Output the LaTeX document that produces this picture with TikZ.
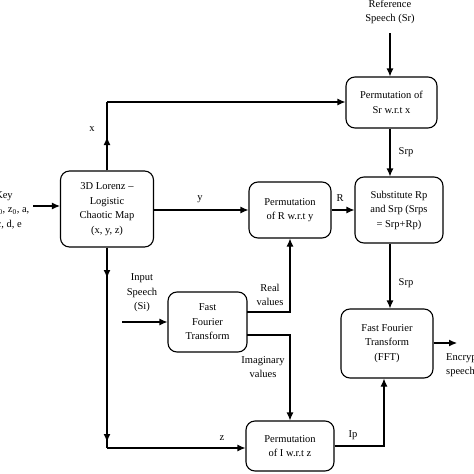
\documentclass[tikz,border=0pt]{standalone}
\usepackage{fontspec}
\setmainfont{Liberation Serif}
\usetikzlibrary{arrows.meta}
\begin{document}
\begin{tikzpicture}[x=1pt,y=-1pt,
  every node/.style={font=\fontsize{10.5}{14.5}\selectfont, align=center, inner sep=0pt},
  blk/.style={draw, line width=1.1pt, rounded corners=9pt},
  wire/.style={line width=1.1pt},
  arr/.style={line width=1.1pt, -{Latex[length=8pt,width=7pt]}},
  lbl/.style={}]
\useasboundingbox (0,0) rectangle (474,474);
% boxes
\node[blk, minimum width=93pt, minimum height=76pt] (lorenz) at (107,209) {3D Lorenz --\\Logistic\\Chaotic Map\\(x, y, z)};
\node[blk, minimum width=82pt, minimum height=56pt] (permR) at (290,210) {Permutation\\of R w.r.t y};
\node[blk, minimum width=88pt, minimum height=66pt] (subst) at (399,210) {Substitute Rp\\and Srp (Srps\\= Srp+Rp)};
\node[blk, minimum width=91pt, minimum height=51pt] (permSr) at (391.5,102.5) {Permutation of\\Sr w.r.t x};
\node[blk, minimum width=92pt, minimum height=69pt] (fft2) at (387,343.5) {Fast Fourier\\Transform\\(FFT)};
\node[blk, minimum width=79pt, minimum height=60pt] (fft1) at (207.5,322) {Fast\\Fourier\\Transform};
\node[blk, minimum width=88pt, minimum height=50pt] (permI) at (290,446) {Permutation\\of I w.r.t z};
% labels
\node (key) at (4,210) {Key\\x\textsubscript{0}, y\textsubscript{0}, z\textsubscript{0}, a,\\b, c, d, e};
\node (ref) at (390,12) {Reference\\Speech (Sr)};
\node (si) at (142,293) {Input\\Speech\\(Si)};
\node[align=left, anchor=west] (enc) at (446,365) {Encrypted\\speech};
\node (lx) at (92,129) {x};
\node (ly) at (200,199) {y};
\node (lR) at (340,198) {R};
\node (lsrp1) at (406,152) {Srp};
\node (lsrp2) at (406,283) {Srp};
\node (lreal) at (270,295) {Real\\values};
\node (limag) at (263,367) {Imaginary\\values};
\node (lz) at (222,438) {z};
\node (lIp) at (353,435) {Ip};
% coordinates
\coordinate (colA) at (390,0);
\coordinate (colB) at (384,0);
\coordinate (keyend) at (33,206);
\coordinate (refend) at (390,33);
\coordinate (xc) at (107,102);
\coordinate (xmid) at (107,137);
\coordinate (z1) at (107,278);
\coordinate (z2) at (107,442);
\coordinate (zc) at (107,448);
\coordinate (sistart) at (122,322);
\coordinate (r1) at (247,312);
\coordinate (r2) at (290,312);
\coordinate (i1) at (247,335);
\coordinate (i2) at (290,335);
\coordinate (ip2) at (384,446);
\coordinate (outend) at (457,343);
% connectors
\draw[arr] (keyend) -- (lorenz.west |- keyend);
\draw[wire] (lorenz.north) -- (xc);
\draw[arr] (lorenz.north) -- (xmid);
\draw[arr] (xc) -- (permSr.west |- xc);
\draw[arr] (refend) -- (permSr.north -| colA);
\draw[arr] (permSr.south -| colA) -- (subst.north -| colA);
\draw[arr] (lorenz.east |- permR) -- (permR.west);
\draw[arr] (permR.east) -- (subst.west |- permR.east);
\draw[arr] (subst.south -| colA) -- (fft2.north -| colA);
\draw[arr] (fft2.east |- outend) -- (outend);
\draw[wire] (lorenz.south) -- (zc);
\draw[arr] (lorenz.south) -- (z1);
\draw[arr] (z1) -- (z2);
\draw[arr] (zc) -- (permI.west |- zc);
\draw[arr] (sistart) -- (fft1.west |- sistart);
\draw[arr] (r1) -- (r2) -- (permR.south);
\draw[arr] (i1) -- (i2) -- (permI.north);
\draw[arr] (permI.east) -- (ip2) -- (fft2.south -| colB);
\end{tikzpicture}
\end{document}
